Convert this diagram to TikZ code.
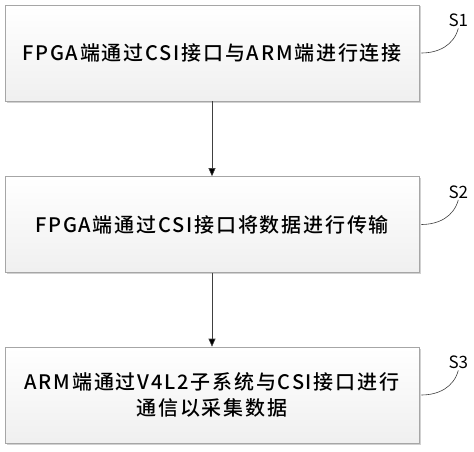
\documentclass[tikz,border=0pt]{standalone}
\usepackage{fontspec}
\setmainfont{Noto Sans CJK SC}
\newfontfamily\boxfont[LetterSpace=9,BoldFont={Noto Sans CJK SC Medium}]{Noto Sans CJK SC}
\usetikzlibrary{calc,shadows,arrows.meta}

\tikzset{
  stepbox/.style={draw=gray!70, line width=0.6pt, minimum width=414pt, minimum height=96pt,
    top color=white, bottom color=gray!12, align=center, inner sep=4pt,
    font=\boxfont\bfseries\fontsize{20pt}{26pt}\selectfont,
    drop shadow={shadow xshift=1.5pt, shadow yshift=-1.5pt, fill=gray!45, opacity=0.8}},
  steplabel/.style={font=\fontsize{17pt}{20pt}\selectfont, inner sep=1pt},
  flow/.style={-{Triangle[length=8pt,width=7pt]}, draw=gray!50!black, line width=0.6pt},
  tag/.style={draw=gray!50!black, line width=0.6pt}
}

\begin{document}
\begin{tikzpicture}[x=1pt,y=1pt]
  \useasboundingbox (0,0) rectangle (474,451);

  \node[stepbox] (B1) at (212,398) {FPGA端通过CSI接口与ARM端进行连接};
  \node[stepbox] (B2) at ($(B1)+(0,-171.5)$) {FPGA端通过CSI接口将数据进行传输};
  \node[stepbox] (B3) at ($(B2)+(0,-170.5)$) {ARM端通过V4L2子系统与CSI接口进行\\通信以采集数据};

  \node[steplabel] (L1) at ($(B1.north east)+(39,-16)$) {S1};
  \node[steplabel] (L2) at ($(B2.north east)+(39,-16)$) {S2};
  \node[steplabel] (L3) at ($(B3.north east)+(39,-16)$) {S3};

  \path[flow] (B1) edge (B2);
  \path[flow] (B2) edge (B3);

  \draw[tag] ($(B1.east)+(2,0)$) to[out=0,in=-105] (L1.south);
  \draw[tag] ($(B2.east)+(2,0)$) to[out=0,in=-105] (L2.south);
  \draw[tag] ($(B3.east)+(2,0)$) to[out=0,in=-105] (L3.south);
\end{tikzpicture}
\end{document}
